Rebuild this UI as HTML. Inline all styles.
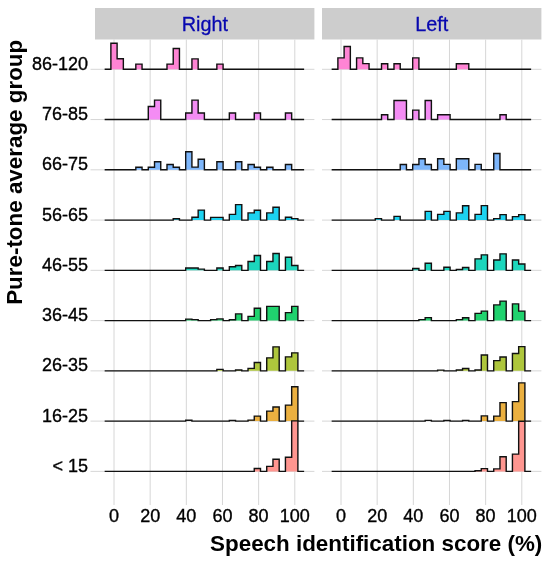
<!DOCTYPE html>
<html><head><meta charset="utf-8"><title>Speech identification score by pure-tone average group</title>
<style>html,body{margin:0;padding:0;background:#fff;}svg{display:block;}text{font-family:"Liberation Sans",Arial,Helvetica,sans-serif;}</style></head><body>
<svg width="550" height="564" viewBox="0 0 550 564">
<rect x="0" y="0" width="550" height="564" fill="#ffffff"/>
<rect x="95" y="8" width="219.4" height="31.5" fill="#CDCDCD"/>
<text x="204.8" y="31.3" font-size="19.8" fill="#0808B0" stroke="#0808B0" stroke-width="0.3" text-anchor="middle">Right</text>
<line x1="114" y1="39.5" x2="114" y2="505" stroke="#D6D6D6" stroke-width="1"/>
<line x1="150.16" y1="39.5" x2="150.16" y2="505" stroke="#D6D6D6" stroke-width="1"/>
<line x1="186.32" y1="39.5" x2="186.32" y2="505" stroke="#D6D6D6" stroke-width="1"/>
<line x1="222.48" y1="39.5" x2="222.48" y2="505" stroke="#D6D6D6" stroke-width="1"/>
<line x1="258.64" y1="39.5" x2="258.64" y2="505" stroke="#D6D6D6" stroke-width="1"/>
<line x1="294.8" y1="39.5" x2="294.8" y2="505" stroke="#D6D6D6" stroke-width="1"/>
<line x1="90.5" y1="69.3" x2="314.4" y2="69.3" stroke="#D6D6D6" stroke-width="1"/>
<line x1="90.5" y1="119.56" x2="314.4" y2="119.56" stroke="#D6D6D6" stroke-width="1"/>
<line x1="90.5" y1="169.82" x2="314.4" y2="169.82" stroke="#D6D6D6" stroke-width="1"/>
<line x1="90.5" y1="220.08" x2="314.4" y2="220.08" stroke="#D6D6D6" stroke-width="1"/>
<line x1="90.5" y1="270.34" x2="314.4" y2="270.34" stroke="#D6D6D6" stroke-width="1"/>
<line x1="90.5" y1="320.6" x2="314.4" y2="320.6" stroke="#D6D6D6" stroke-width="1"/>
<line x1="90.5" y1="370.86" x2="314.4" y2="370.86" stroke="#D6D6D6" stroke-width="1"/>
<line x1="90.5" y1="421.12" x2="314.4" y2="421.12" stroke="#D6D6D6" stroke-width="1"/>
<line x1="90.5" y1="471.38" x2="314.4" y2="471.38" stroke="#D6D6D6" stroke-width="1"/>
<rect x="322" y="8" width="219.4" height="31.5" fill="#CDCDCD"/>
<text x="431.8" y="31.3" font-size="19.8" fill="#0808B0" stroke="#0808B0" stroke-width="0.3" text-anchor="middle">Left</text>
<line x1="341" y1="39.5" x2="341" y2="505" stroke="#D6D6D6" stroke-width="1"/>
<line x1="377.16" y1="39.5" x2="377.16" y2="505" stroke="#D6D6D6" stroke-width="1"/>
<line x1="413.32" y1="39.5" x2="413.32" y2="505" stroke="#D6D6D6" stroke-width="1"/>
<line x1="449.48" y1="39.5" x2="449.48" y2="505" stroke="#D6D6D6" stroke-width="1"/>
<line x1="485.64" y1="39.5" x2="485.64" y2="505" stroke="#D6D6D6" stroke-width="1"/>
<line x1="521.8" y1="39.5" x2="521.8" y2="505" stroke="#D6D6D6" stroke-width="1"/>
<line x1="322" y1="69.3" x2="541.4" y2="69.3" stroke="#D6D6D6" stroke-width="1"/>
<line x1="322" y1="119.56" x2="541.4" y2="119.56" stroke="#D6D6D6" stroke-width="1"/>
<line x1="322" y1="169.82" x2="541.4" y2="169.82" stroke="#D6D6D6" stroke-width="1"/>
<line x1="322" y1="220.08" x2="541.4" y2="220.08" stroke="#D6D6D6" stroke-width="1"/>
<line x1="322" y1="270.34" x2="541.4" y2="270.34" stroke="#D6D6D6" stroke-width="1"/>
<line x1="322" y1="320.6" x2="541.4" y2="320.6" stroke="#D6D6D6" stroke-width="1"/>
<line x1="322" y1="370.86" x2="541.4" y2="370.86" stroke="#D6D6D6" stroke-width="1"/>
<line x1="322" y1="421.12" x2="541.4" y2="421.12" stroke="#D6D6D6" stroke-width="1"/>
<line x1="322" y1="471.38" x2="541.4" y2="471.38" stroke="#D6D6D6" stroke-width="1"/>
<path d="M104.65 69.3 L110.88 69.3 L110.88 43.3 L117.11 43.3 L117.11 58.8 L123.35 58.8 L123.35 69.3 L135.82 69.3 L135.82 64.1 L142.05 64.1 L142.05 69.3 L166.99 69.3 L166.99 64.1 L173.22 64.1 L173.22 48.5 L179.45 48.5 L179.45 69.3 L191.92 69.3 L191.92 58.9 L198.16 58.9 L198.16 69.3 L216.86 69.3 L216.86 64.1 L223.09 64.1 L223.09 69.3 L304.13 69.3Z" fill="#FF84D4" stroke="none"/>
<path d="M104.65 69.3 L110.88 69.3 L110.88 43.3 L117.11 43.3 L117.11 58.8 L123.35 58.8 L123.35 69.3 L135.82 69.3 L135.82 64.1 L142.05 64.1 L142.05 69.3 L166.99 69.3 L166.99 64.1 L173.22 64.1 L173.22 48.5 L179.45 48.5 L179.45 69.3 L191.92 69.3 L191.92 58.9 L198.16 58.9 L198.16 69.3 L216.86 69.3 L216.86 64.1 L223.09 64.1 L223.09 69.3 L304.13 69.3" fill="none" stroke="#111" stroke-width="1.4" stroke-linejoin="miter"/>
<path d="M331.65 69.3 L337.88 69.3 L337.88 57.9 L344.11 57.9 L344.11 46.5 L350.35 46.5 L350.35 69.3 L356.58 69.3 L356.58 57.9 L362.82 57.9 L362.82 63.6 L369.05 63.6 L369.05 69.3 L381.52 69.3 L381.52 63.7 L387.75 63.7 L387.75 69.3 L393.99 69.3 L393.99 63.7 L400.22 63.7 L400.22 69.3 L412.69 69.3 L412.69 57.9 L418.92 57.9 L418.92 69.3 L456.33 69.3 L456.33 63.7 L468.79 63.7 L468.79 69.3 L531.13 69.3Z" fill="#FF84D4" stroke="none"/>
<path d="M331.65 69.3 L337.88 69.3 L337.88 57.9 L344.11 57.9 L344.11 46.5 L350.35 46.5 L350.35 69.3 L356.58 69.3 L356.58 57.9 L362.82 57.9 L362.82 63.6 L369.05 63.6 L369.05 69.3 L381.52 69.3 L381.52 63.7 L387.75 63.7 L387.75 69.3 L393.99 69.3 L393.99 63.7 L400.22 63.7 L400.22 69.3 L412.69 69.3 L412.69 57.9 L418.92 57.9 L418.92 69.3 L456.33 69.3 L456.33 63.7 L468.79 63.7 L468.79 69.3 L531.13 69.3" fill="none" stroke="#111" stroke-width="1.4" stroke-linejoin="miter"/>
<path d="M104.65 119.56 L148.28 119.56 L148.28 106.56 L154.52 106.56 L154.52 100.16 L160.75 100.16 L160.75 119.56 L185.69 119.56 L185.69 112.96 L191.92 112.96 L191.92 100.16 L198.16 100.16 L198.16 112.96 L204.39 112.96 L204.39 119.56 L229.33 119.56 L229.33 112.96 L235.56 112.96 L235.56 119.56 L254.26 119.56 L254.26 112.96 L260.5 112.96 L260.5 119.56 L285.43 119.56 L285.43 112.96 L291.67 112.96 L291.67 119.56 L304.13 119.56Z" fill="#F48CF4" stroke="none"/>
<path d="M104.65 119.56 L148.28 119.56 L148.28 106.56 L154.52 106.56 L154.52 100.16 L160.75 100.16 L160.75 119.56 L185.69 119.56 L185.69 112.96 L191.92 112.96 L191.92 100.16 L198.16 100.16 L198.16 112.96 L204.39 112.96 L204.39 119.56 L229.33 119.56 L229.33 112.96 L235.56 112.96 L235.56 119.56 L254.26 119.56 L254.26 112.96 L260.5 112.96 L260.5 119.56 L285.43 119.56 L285.43 112.96 L291.67 112.96 L291.67 119.56 L304.13 119.56" fill="none" stroke="#111" stroke-width="1.4" stroke-linejoin="miter"/>
<path d="M331.65 119.56 L381.52 119.56 L381.52 114.76 L387.75 114.76 L387.75 119.56 L393.99 119.56 L393.99 100.56 L406.45 100.56 L406.45 119.56 L412.69 119.56 L412.69 110.16 L418.92 110.16 L418.92 119.56 L425.16 119.56 L425.16 100.56 L431.39 100.56 L431.39 119.56 L437.62 119.56 L437.62 114.76 L450.09 114.76 L450.09 119.56 L499.96 119.56 L499.96 114.76 L506.2 114.76 L506.2 119.56 L531.13 119.56Z" fill="#F48CF4" stroke="none"/>
<path d="M331.65 119.56 L381.52 119.56 L381.52 114.76 L387.75 114.76 L387.75 119.56 L393.99 119.56 L393.99 100.56 L406.45 100.56 L406.45 119.56 L412.69 119.56 L412.69 110.16 L418.92 110.16 L418.92 119.56 L425.16 119.56 L425.16 100.56 L431.39 100.56 L431.39 119.56 L437.62 119.56 L437.62 114.76 L450.09 114.76 L450.09 119.56 L499.96 119.56 L499.96 114.76 L506.2 114.76 L506.2 119.56 L531.13 119.56" fill="none" stroke="#111" stroke-width="1.4" stroke-linejoin="miter"/>
<path d="M104.65 169.82 L135.82 169.82 L135.82 167.22 L142.05 167.22 L142.05 169.82 L148.28 169.82 L148.28 167.22 L154.52 167.22 L154.52 161.82 L160.75 161.82 L160.75 169.82 L166.99 169.82 L166.99 164.52 L173.22 164.52 L173.22 167.22 L179.45 167.22 L179.45 169.82 L185.69 169.82 L185.69 151.82 L191.92 151.82 L191.92 167.12 L198.16 167.12 L198.16 159.22 L204.39 159.22 L204.39 169.82 L216.86 169.82 L216.86 161.82 L223.09 161.82 L223.09 169.82 L235.56 169.82 L235.56 161.82 L241.79 161.82 L241.79 169.82 L248.03 169.82 L248.03 164.52 L254.26 164.52 L254.26 167.22 L260.5 167.22 L260.5 169.82 L266.73 169.82 L266.73 167.22 L272.96 167.22 L272.96 169.82 L285.43 169.82 L285.43 164.52 L291.67 164.52 L291.67 169.82 L304.13 169.82Z" fill="#7DB6FB" stroke="none"/>
<path d="M104.65 169.82 L135.82 169.82 L135.82 167.22 L142.05 167.22 L142.05 169.82 L148.28 169.82 L148.28 167.22 L154.52 167.22 L154.52 161.82 L160.75 161.82 L160.75 169.82 L166.99 169.82 L166.99 164.52 L173.22 164.52 L173.22 167.22 L179.45 167.22 L179.45 169.82 L185.69 169.82 L185.69 151.82 L191.92 151.82 L191.92 167.12 L198.16 167.12 L198.16 159.22 L204.39 159.22 L204.39 169.82 L216.86 169.82 L216.86 161.82 L223.09 161.82 L223.09 169.82 L235.56 169.82 L235.56 161.82 L241.79 161.82 L241.79 169.82 L248.03 169.82 L248.03 164.52 L254.26 164.52 L254.26 167.22 L260.5 167.22 L260.5 169.82 L266.73 169.82 L266.73 167.22 L272.96 167.22 L272.96 169.82 L285.43 169.82 L285.43 164.52 L291.67 164.52 L291.67 169.82 L304.13 169.82" fill="none" stroke="#111" stroke-width="1.4" stroke-linejoin="miter"/>
<path d="M331.65 169.82 L400.22 169.82 L400.22 164.52 L406.45 164.52 L406.45 169.82 L412.69 169.82 L412.69 164.52 L418.92 164.52 L418.92 158.82 L425.16 158.82 L425.16 164.52 L431.39 164.52 L431.39 169.82 L437.62 169.82 L437.62 158.82 L443.86 158.82 L443.86 164.42 L450.09 164.42 L450.09 169.82 L456.33 169.82 L456.33 158.82 L468.79 158.82 L468.79 169.82 L475.03 169.82 L475.03 164.42 L481.26 164.42 L481.26 169.82 L493.73 169.82 L493.73 153.52 L499.96 153.52 L499.96 169.82 L531.13 169.82Z" fill="#7DB6FB" stroke="none"/>
<path d="M331.65 169.82 L400.22 169.82 L400.22 164.52 L406.45 164.52 L406.45 169.82 L412.69 169.82 L412.69 164.52 L418.92 164.52 L418.92 158.82 L425.16 158.82 L425.16 164.52 L431.39 164.52 L431.39 169.82 L437.62 169.82 L437.62 158.82 L443.86 158.82 L443.86 164.42 L450.09 164.42 L450.09 169.82 L456.33 169.82 L456.33 158.82 L468.79 158.82 L468.79 169.82 L475.03 169.82 L475.03 164.42 L481.26 164.42 L481.26 169.82 L493.73 169.82 L493.73 153.52 L499.96 153.52 L499.96 169.82 L531.13 169.82" fill="none" stroke="#111" stroke-width="1.4" stroke-linejoin="miter"/>
<path d="M104.65 220.08 L173.22 220.08 L173.22 218.78 L179.45 218.78 L179.45 220.08 L191.92 220.08 L191.92 217.28 L198.16 217.28 L198.16 210.08 L204.39 210.08 L204.39 220.08 L210.62 220.08 L210.62 217.38 L223.09 217.38 L223.09 220.08 L229.33 220.08 L229.33 214.38 L235.56 214.38 L235.56 204.58 L241.79 204.58 L241.79 220.08 L248.03 220.08 L248.03 212.88 L254.26 212.88 L254.26 210.28 L260.5 210.28 L260.5 220.08 L266.73 220.08 L266.73 212.88 L272.96 212.88 L272.96 207.28 L279.2 207.28 L279.2 220.08 L285.43 220.08 L285.43 217.28 L291.67 217.28 L291.67 218.58 L297.9 218.58 L297.9 220.08 L304.13 220.08Z" fill="#1CD2F0" stroke="none"/>
<path d="M104.65 220.08 L173.22 220.08 L173.22 218.78 L179.45 218.78 L179.45 220.08 L191.92 220.08 L191.92 217.28 L198.16 217.28 L198.16 210.08 L204.39 210.08 L204.39 220.08 L210.62 220.08 L210.62 217.38 L223.09 217.38 L223.09 220.08 L229.33 220.08 L229.33 214.38 L235.56 214.38 L235.56 204.58 L241.79 204.58 L241.79 220.08 L248.03 220.08 L248.03 212.88 L254.26 212.88 L254.26 210.28 L260.5 210.28 L260.5 220.08 L266.73 220.08 L266.73 212.88 L272.96 212.88 L272.96 207.28 L279.2 207.28 L279.2 220.08 L285.43 220.08 L285.43 217.28 L291.67 217.28 L291.67 218.58 L297.9 218.58 L297.9 220.08 L304.13 220.08" fill="none" stroke="#111" stroke-width="1.4" stroke-linejoin="miter"/>
<path d="M331.65 220.08 L375.28 220.08 L375.28 218.58 L381.52 218.58 L381.52 220.08 L393.99 220.08 L393.99 216.38 L400.22 216.38 L400.22 220.08 L425.16 220.08 L425.16 211.38 L431.39 211.38 L431.39 220.08 L437.62 220.08 L437.62 214.38 L443.86 214.38 L443.86 211.38 L450.09 211.38 L450.09 220.08 L456.33 220.08 L456.33 212.88 L462.56 212.88 L462.56 205.78 L468.79 205.78 L468.79 220.08 L475.03 220.08 L475.03 214.38 L481.26 214.38 L481.26 205.58 L487.5 205.58 L487.5 220.08 L493.73 220.08 L493.73 218.58 L499.96 218.58 L499.96 214.58 L506.2 214.58 L506.2 220.08 L512.43 220.08 L512.43 216.58 L518.67 216.58 L518.67 214.58 L524.9 214.58 L524.9 220.08 L531.13 220.08Z" fill="#1CD2F0" stroke="none"/>
<path d="M331.65 220.08 L375.28 220.08 L375.28 218.58 L381.52 218.58 L381.52 220.08 L393.99 220.08 L393.99 216.38 L400.22 216.38 L400.22 220.08 L425.16 220.08 L425.16 211.38 L431.39 211.38 L431.39 220.08 L437.62 220.08 L437.62 214.38 L443.86 214.38 L443.86 211.38 L450.09 211.38 L450.09 220.08 L456.33 220.08 L456.33 212.88 L462.56 212.88 L462.56 205.78 L468.79 205.78 L468.79 220.08 L475.03 220.08 L475.03 214.38 L481.26 214.38 L481.26 205.58 L487.5 205.58 L487.5 220.08 L493.73 220.08 L493.73 218.58 L499.96 218.58 L499.96 214.58 L506.2 214.58 L506.2 220.08 L512.43 220.08 L512.43 216.58 L518.67 216.58 L518.67 214.58 L524.9 214.58 L524.9 220.08 L531.13 220.08" fill="none" stroke="#111" stroke-width="1.4" stroke-linejoin="miter"/>
<path d="M104.65 270.34 L185.69 270.34 L185.69 268.04 L198.16 268.04 L198.16 269.14 L204.39 269.14 L204.39 270.34 L216.86 270.34 L216.86 268.04 L223.09 268.04 L223.09 270.34 L229.33 270.34 L229.33 266.74 L235.56 266.74 L235.56 265.54 L241.79 265.54 L241.79 270.34 L248.03 270.34 L248.03 261.54 L254.26 261.54 L254.26 255.54 L260.5 255.54 L260.5 270.34 L266.73 270.34 L266.73 261.54 L272.96 261.54 L272.96 253.54 L279.2 253.54 L279.2 270.34 L285.43 270.34 L285.43 257.24 L291.67 257.24 L291.67 265.54 L297.9 265.54 L297.9 270.34 L304.13 270.34Z" fill="#1CD6BC" stroke="none"/>
<path d="M104.65 270.34 L185.69 270.34 L185.69 268.04 L198.16 268.04 L198.16 269.14 L204.39 269.14 L204.39 270.34 L216.86 270.34 L216.86 268.04 L223.09 268.04 L223.09 270.34 L229.33 270.34 L229.33 266.74 L235.56 266.74 L235.56 265.54 L241.79 265.54 L241.79 270.34 L248.03 270.34 L248.03 261.54 L254.26 261.54 L254.26 255.54 L260.5 255.54 L260.5 270.34 L266.73 270.34 L266.73 261.54 L272.96 261.54 L272.96 253.54 L279.2 253.54 L279.2 270.34 L285.43 270.34 L285.43 257.24 L291.67 257.24 L291.67 265.54 L297.9 265.54 L297.9 270.34 L304.13 270.34" fill="none" stroke="#111" stroke-width="1.4" stroke-linejoin="miter"/>
<path d="M331.65 270.34 L412.69 270.34 L412.69 268.54 L418.92 268.54 L418.92 270.34 L425.16 270.34 L425.16 263.24 L431.39 263.24 L431.39 270.34 L443.86 270.34 L443.86 267.24 L450.09 267.24 L450.09 270.34 L456.33 270.34 L456.33 269.54 L462.56 269.54 L462.56 267.54 L468.79 267.54 L468.79 270.34 L475.03 270.34 L475.03 258.84 L481.26 258.84 L481.26 254.84 L487.5 254.84 L487.5 270.34 L493.73 270.34 L493.73 260.04 L499.96 260.04 L499.96 253.84 L506.2 253.84 L506.2 270.34 L512.43 270.34 L512.43 260.04 L518.67 260.04 L518.67 264.04 L524.9 264.04 L524.9 270.34 L531.13 270.34Z" fill="#1CD6BC" stroke="none"/>
<path d="M331.65 270.34 L412.69 270.34 L412.69 268.54 L418.92 268.54 L418.92 270.34 L425.16 270.34 L425.16 263.24 L431.39 263.24 L431.39 270.34 L443.86 270.34 L443.86 267.24 L450.09 267.24 L450.09 270.34 L456.33 270.34 L456.33 269.54 L462.56 269.54 L462.56 267.54 L468.79 267.54 L468.79 270.34 L475.03 270.34 L475.03 258.84 L481.26 258.84 L481.26 254.84 L487.5 254.84 L487.5 270.34 L493.73 270.34 L493.73 260.04 L499.96 260.04 L499.96 253.84 L506.2 253.84 L506.2 270.34 L512.43 270.34 L512.43 260.04 L518.67 260.04 L518.67 264.04 L524.9 264.04 L524.9 270.34 L531.13 270.34" fill="none" stroke="#111" stroke-width="1.4" stroke-linejoin="miter"/>
<path d="M104.65 320.6 L185.69 320.6 L185.69 319.1 L191.92 319.1 L191.92 319.6 L198.16 319.6 L198.16 320.6 L210.62 320.6 L210.62 319.6 L216.86 319.6 L216.86 318.9 L223.09 318.9 L223.09 320.6 L229.33 320.6 L229.33 319.8 L235.56 319.8 L235.56 313.9 L241.79 313.9 L241.79 320.6 L248.03 320.6 L248.03 316.4 L254.26 316.4 L254.26 308.2 L260.5 308.2 L260.5 320.6 L266.73 320.6 L266.73 306.4 L279.2 306.4 L279.2 320.6 L285.43 320.6 L285.43 312.6 L291.67 312.6 L291.67 306.4 L297.9 306.4 L297.9 320.6 L304.13 320.6Z" fill="#20D26E" stroke="none"/>
<path d="M104.65 320.6 L185.69 320.6 L185.69 319.1 L191.92 319.1 L191.92 319.6 L198.16 319.6 L198.16 320.6 L210.62 320.6 L210.62 319.6 L216.86 319.6 L216.86 318.9 L223.09 318.9 L223.09 320.6 L229.33 320.6 L229.33 319.8 L235.56 319.8 L235.56 313.9 L241.79 313.9 L241.79 320.6 L248.03 320.6 L248.03 316.4 L254.26 316.4 L254.26 308.2 L260.5 308.2 L260.5 320.6 L266.73 320.6 L266.73 306.4 L279.2 306.4 L279.2 320.6 L285.43 320.6 L285.43 312.6 L291.67 312.6 L291.67 306.4 L297.9 306.4 L297.9 320.6 L304.13 320.6" fill="none" stroke="#111" stroke-width="1.4" stroke-linejoin="miter"/>
<path d="M331.65 320.6 L418.92 320.6 L418.92 319.6 L425.16 319.6 L425.16 317.6 L431.39 317.6 L431.39 320.6 L456.33 320.6 L456.33 319.6 L462.56 319.6 L462.56 317.8 L468.79 317.8 L468.79 320.6 L475.03 320.6 L475.03 313.4 L481.26 313.4 L481.26 311.1 L487.5 311.1 L487.5 320.6 L493.73 320.6 L493.73 304.9 L499.96 304.9 L499.96 301.1 L506.2 301.1 L506.2 320.6 L512.43 320.6 L512.43 303.9 L518.67 303.9 L518.67 311.1 L524.9 311.1 L524.9 320.6 L531.13 320.6Z" fill="#20D26E" stroke="none"/>
<path d="M331.65 320.6 L418.92 320.6 L418.92 319.6 L425.16 319.6 L425.16 317.6 L431.39 317.6 L431.39 320.6 L456.33 320.6 L456.33 319.6 L462.56 319.6 L462.56 317.8 L468.79 317.8 L468.79 320.6 L475.03 320.6 L475.03 313.4 L481.26 313.4 L481.26 311.1 L487.5 311.1 L487.5 320.6 L493.73 320.6 L493.73 304.9 L499.96 304.9 L499.96 301.1 L506.2 301.1 L506.2 320.6 L512.43 320.6 L512.43 303.9 L518.67 303.9 L518.67 311.1 L524.9 311.1 L524.9 320.6 L531.13 320.6" fill="none" stroke="#111" stroke-width="1.4" stroke-linejoin="miter"/>
<path d="M104.65 370.86 L216.86 370.86 L216.86 369.36 L223.09 369.36 L223.09 370.86 L235.56 370.86 L235.56 370.06 L241.79 370.06 L241.79 370.86 L248.03 370.86 L248.03 368.36 L254.26 368.36 L254.26 362.46 L260.5 362.46 L260.5 370.86 L266.73 370.86 L266.73 357.86 L272.96 357.86 L272.96 346.86 L279.2 346.86 L279.2 370.86 L285.43 370.86 L285.43 356.86 L291.67 356.86 L291.67 352.86 L297.9 352.86 L297.9 370.86 L304.13 370.86Z" fill="#AEC63C" stroke="none"/>
<path d="M104.65 370.86 L216.86 370.86 L216.86 369.36 L223.09 369.36 L223.09 370.86 L235.56 370.86 L235.56 370.06 L241.79 370.06 L241.79 370.86 L248.03 370.86 L248.03 368.36 L254.26 368.36 L254.26 362.46 L260.5 362.46 L260.5 370.86 L266.73 370.86 L266.73 357.86 L272.96 357.86 L272.96 346.86 L279.2 346.86 L279.2 370.86 L285.43 370.86 L285.43 356.86 L291.67 356.86 L291.67 352.86 L297.9 352.86 L297.9 370.86 L304.13 370.86" fill="none" stroke="#111" stroke-width="1.4" stroke-linejoin="miter"/>
<path d="M331.65 370.86 L437.62 370.86 L437.62 370.16 L443.86 370.16 L443.86 370.86 L456.33 370.86 L456.33 369.96 L462.56 369.96 L462.56 368.46 L468.79 368.46 L468.79 370.86 L475.03 370.86 L475.03 369.96 L481.26 369.96 L481.26 354.96 L487.5 354.96 L487.5 370.86 L493.73 370.86 L493.73 360.66 L499.96 360.66 L499.96 356.96 L506.2 356.96 L506.2 370.86 L512.43 370.86 L512.43 353.46 L518.67 353.46 L518.67 346.66 L524.9 346.66 L524.9 370.86 L531.13 370.86Z" fill="#AEC63C" stroke="none"/>
<path d="M331.65 370.86 L437.62 370.86 L437.62 370.16 L443.86 370.16 L443.86 370.86 L456.33 370.86 L456.33 369.96 L462.56 369.96 L462.56 368.46 L468.79 368.46 L468.79 370.86 L475.03 370.86 L475.03 369.96 L481.26 369.96 L481.26 354.96 L487.5 354.96 L487.5 370.86 L493.73 370.86 L493.73 360.66 L499.96 360.66 L499.96 356.96 L506.2 356.96 L506.2 370.86 L512.43 370.86 L512.43 353.46 L518.67 353.46 L518.67 346.66 L524.9 346.66 L524.9 370.86 L531.13 370.86" fill="none" stroke="#111" stroke-width="1.4" stroke-linejoin="miter"/>
<path d="M104.65 421.12 L185.69 421.12 L185.69 420.32 L191.92 420.32 L191.92 421.12 L229.33 421.12 L229.33 420.52 L235.56 420.52 L235.56 421.12 L248.03 421.12 L248.03 420.12 L254.26 420.12 L254.26 416.12 L260.5 416.12 L260.5 421.12 L266.73 421.12 L266.73 411.12 L272.96 411.12 L272.96 407.02 L279.2 407.02 L279.2 421.12 L285.43 421.12 L285.43 405.12 L291.67 405.12 L291.67 386.82 L297.9 386.82 L297.9 421.12 L304.13 421.12Z" fill="#EBB040" stroke="none"/>
<path d="M104.65 421.12 L185.69 421.12 L185.69 420.32 L191.92 420.32 L191.92 421.12 L229.33 421.12 L229.33 420.52 L235.56 420.52 L235.56 421.12 L248.03 421.12 L248.03 420.12 L254.26 420.12 L254.26 416.12 L260.5 416.12 L260.5 421.12 L266.73 421.12 L266.73 411.12 L272.96 411.12 L272.96 407.02 L279.2 407.02 L279.2 421.12 L285.43 421.12 L285.43 405.12 L291.67 405.12 L291.67 386.82 L297.9 386.82 L297.9 421.12 L304.13 421.12" fill="none" stroke="#111" stroke-width="1.4" stroke-linejoin="miter"/>
<path d="M331.65 421.12 L425.16 421.12 L425.16 420.42 L431.39 420.42 L431.39 421.12 L443.86 421.12 L443.86 420.52 L450.09 420.52 L450.09 421.12 L462.56 421.12 L462.56 420.52 L468.79 420.52 L468.79 421.12 L481.26 421.12 L481.26 415.92 L487.5 415.92 L487.5 421.12 L493.73 421.12 L493.73 416.12 L499.96 416.12 L499.96 402.62 L506.2 402.62 L506.2 421.12 L512.43 421.12 L512.43 401.62 L518.67 401.62 L518.67 382.92 L524.9 382.92 L524.9 421.12 L531.13 421.12Z" fill="#EBB040" stroke="none"/>
<path d="M331.65 421.12 L425.16 421.12 L425.16 420.42 L431.39 420.42 L431.39 421.12 L443.86 421.12 L443.86 420.52 L450.09 420.52 L450.09 421.12 L462.56 421.12 L462.56 420.52 L468.79 420.52 L468.79 421.12 L481.26 421.12 L481.26 415.92 L487.5 415.92 L487.5 421.12 L493.73 421.12 L493.73 416.12 L499.96 416.12 L499.96 402.62 L506.2 402.62 L506.2 421.12 L512.43 421.12 L512.43 401.62 L518.67 401.62 L518.67 382.92 L524.9 382.92 L524.9 421.12 L531.13 421.12" fill="none" stroke="#111" stroke-width="1.4" stroke-linejoin="miter"/>
<path d="M104.65 471.38 L254.26 471.38 L254.26 468.48 L260.5 468.48 L260.5 471.38 L266.73 471.38 L266.73 466.38 L272.96 466.38 L272.96 459.28 L279.2 459.28 L279.2 471.38 L285.43 471.38 L285.43 457.18 L291.67 457.18 L291.67 420.88 L297.9 420.88 L297.9 471.38 L304.13 471.38Z" fill="#FF9690" stroke="none"/>
<path d="M104.65 471.38 L254.26 471.38 L254.26 468.48 L260.5 468.48 L260.5 471.38 L266.73 471.38 L266.73 466.38 L272.96 466.38 L272.96 459.28 L279.2 459.28 L279.2 471.38 L285.43 471.38 L285.43 457.18 L291.67 457.18 L291.67 420.88 L297.9 420.88 L297.9 471.38 L304.13 471.38" fill="none" stroke="#111" stroke-width="1.4" stroke-linejoin="miter"/>
<path d="M331.65 471.38 L475.03 471.38 L475.03 470.68 L481.26 470.68 L481.26 468.58 L487.5 468.58 L487.5 471.38 L493.73 471.38 L493.73 468.88 L499.96 468.88 L499.96 456.68 L506.2 456.68 L506.2 471.38 L512.43 471.38 L512.43 454.08 L518.67 454.08 L518.67 421.28 L524.9 421.28 L524.9 471.38 L531.13 471.38Z" fill="#FF9690" stroke="none"/>
<path d="M331.65 471.38 L475.03 471.38 L475.03 470.68 L481.26 470.68 L481.26 468.58 L487.5 468.58 L487.5 471.38 L493.73 471.38 L493.73 468.88 L499.96 468.88 L499.96 456.68 L506.2 456.68 L506.2 471.38 L512.43 471.38 L512.43 454.08 L518.67 454.08 L518.67 421.28 L524.9 421.28 L524.9 471.38 L531.13 471.38" fill="none" stroke="#111" stroke-width="1.4" stroke-linejoin="miter"/>
<text x="88" y="69.9" font-size="18" fill="#000" stroke="#000" stroke-width="0.35" text-anchor="end">86-120</text>
<text x="88" y="120.16" font-size="18" fill="#000" stroke="#000" stroke-width="0.35" text-anchor="end">76-85</text>
<text x="88" y="170.42" font-size="18" fill="#000" stroke="#000" stroke-width="0.35" text-anchor="end">66-75</text>
<text x="88" y="220.68" font-size="18" fill="#000" stroke="#000" stroke-width="0.35" text-anchor="end">56-65</text>
<text x="88" y="270.94" font-size="18" fill="#000" stroke="#000" stroke-width="0.35" text-anchor="end">46-55</text>
<text x="88" y="321.2" font-size="18" fill="#000" stroke="#000" stroke-width="0.35" text-anchor="end">36-45</text>
<text x="88" y="371.46" font-size="18" fill="#000" stroke="#000" stroke-width="0.35" text-anchor="end">26-35</text>
<text x="88" y="421.72" font-size="18" fill="#000" stroke="#000" stroke-width="0.35" text-anchor="end">16-25</text>
<text x="88" y="471.98" font-size="18" fill="#000" stroke="#000" stroke-width="0.35" text-anchor="end">&lt; 15</text>
<text x="114" y="522" font-size="18" fill="#000" stroke="#000" stroke-width="0.35" text-anchor="middle">0</text>
<text x="150.16" y="522" font-size="18" fill="#000" stroke="#000" stroke-width="0.35" text-anchor="middle">20</text>
<text x="186.32" y="522" font-size="18" fill="#000" stroke="#000" stroke-width="0.35" text-anchor="middle">40</text>
<text x="222.48" y="522" font-size="18" fill="#000" stroke="#000" stroke-width="0.35" text-anchor="middle">60</text>
<text x="258.64" y="522" font-size="18" fill="#000" stroke="#000" stroke-width="0.35" text-anchor="middle">80</text>
<text x="294.8" y="522" font-size="18" fill="#000" stroke="#000" stroke-width="0.35" text-anchor="middle">100</text>
<text x="341" y="522" font-size="18" fill="#000" stroke="#000" stroke-width="0.35" text-anchor="middle">0</text>
<text x="377.16" y="522" font-size="18" fill="#000" stroke="#000" stroke-width="0.35" text-anchor="middle">20</text>
<text x="413.32" y="522" font-size="18" fill="#000" stroke="#000" stroke-width="0.35" text-anchor="middle">40</text>
<text x="449.48" y="522" font-size="18" fill="#000" stroke="#000" stroke-width="0.35" text-anchor="middle">60</text>
<text x="485.64" y="522" font-size="18" fill="#000" stroke="#000" stroke-width="0.35" text-anchor="middle">80</text>
<text x="521.8" y="522" font-size="18" fill="#000" stroke="#000" stroke-width="0.35" text-anchor="middle">100</text>
<text x="542.3" y="551" font-size="22.4" font-weight="bold" fill="#000" text-anchor="end">Speech identification score (%)</text>
<text transform="translate(22.2,39.8) rotate(-90)" x="0" y="0" font-size="22.4" font-weight="bold" fill="#000" text-anchor="end">Pure-tone average group</text>
</svg></body></html>
